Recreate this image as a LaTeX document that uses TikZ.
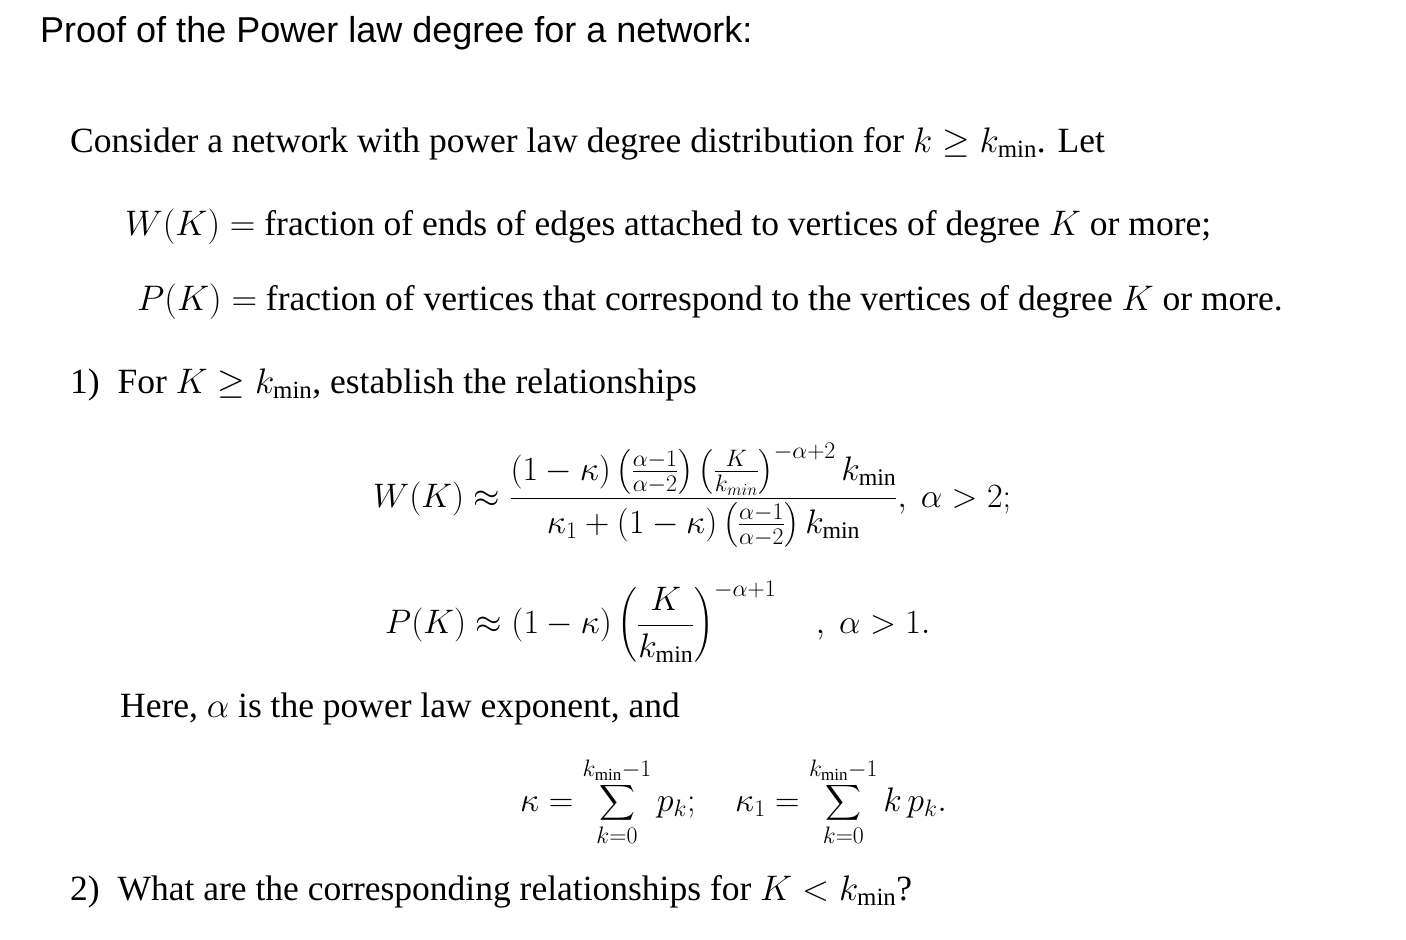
\RequirePackage{fix-cm}
\documentclass[tikz,border=0pt]{standalone}
\usepackage{amsmath}
\usepackage{fontspec}
\setmainfont{Liberation Serif}
\newfontfamily\titlefont{Liberation Sans}
\begin{document}
\begin{tikzpicture}[x=1pt,y=-1pt,
  txt/.style={anchor=base west,inner sep=0pt,font=\fontsize{35.5}{42}\selectfont},
  mth/.style={anchor=west,inner sep=0pt,font=\fontsize{34}{40}\selectfont}]
\useasboundingbox (0,0) rectangle (1406,940);
\node[txt,font=\titlefont\fontsize{36}{42}\selectfont] (title) at (40,42) {Proof of the Power law degree for a network:};
\node[txt] (l1) at (70,152) {Consider a network with power law degree distribution for $k\ge k_{\mathrm{min}}$. Let};
\node[txt] (l2) at (125,235) {$W(K)=$ fraction of ends of edges attached to vertices of degree $K$ or more;};
\node[txt] (l3) at (137,310) {$P(K)=$ fraction of vertices that correspond to the vertices of degree $K$ or more.};
\node[txt] (l4) at (70,393) {1)\ \ For $K\ge k_{\mathrm{min}}$, establish the relationships};
\node[mth] (w) at (373,495) {$\displaystyle W(K)\approx\frac{(1-\kappa)\left(\tfrac{\alpha-1}{\alpha-2}\right)\left(\tfrac{K}{k_{min}}\right)^{-\alpha+2}k_{\mathrm{min}}}{\kappa_1+(1-\kappa)\left(\tfrac{\alpha-1}{\alpha-2}\right)k_{\mathrm{min}}},\ \alpha>2;$};
\node[mth] (p) at (385,622) {$\displaystyle P(K)\approx(1-\kappa)\left(\frac{K}{k_{\mathrm{min}}}\right)^{-\alpha+1}\quad,\ \alpha>1.$};
\node[txt] (l5) at (120,717) {Here, $\alpha$ is the power law exponent, and};
\node[mth] (k) at (520,802) {$\displaystyle \kappa=\sum_{k=0}^{k_{\mathrm{min}}-1}p_k;\quad \kappa_1=\sum_{k=0}^{k_{\mathrm{min}}-1}k\,p_k.$};
\node[txt] (l6) at (70,900) {2)\ \ What are the corresponding relationships for $K<k_{\mathrm{min}}$?};
\end{tikzpicture}
\end{document}
